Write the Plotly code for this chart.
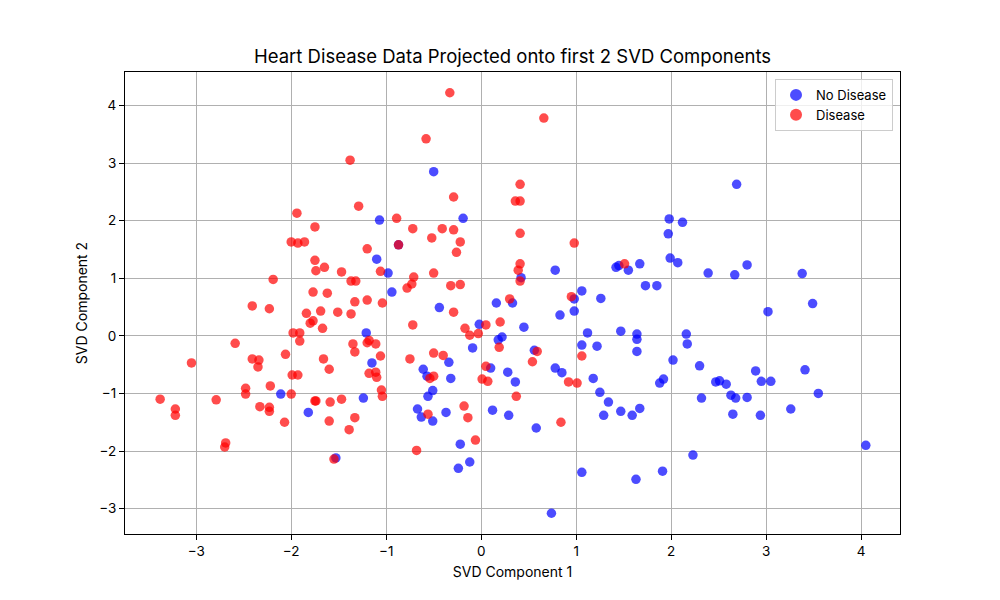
import plotly.graph_objects as go

title = "Heart Disease Data Projected onto first 2 SVD Components"
x_label = "SVD Component 1"
y_label = "SVD Component 2"
series_names = ["No Disease", "Disease"]

no_disease_x = [-1.07, -1.10, -1.21, -1.15, -2.11, -1.82, -1.24, -1.53,
                -0.50, -0.19, -0.87, -0.98, -0.94, -0.44, 0.42, 0.78, 1.42, 1.45, 1.55, 1.67,
                0.16, 0.33, 0.98, 1.06, 1.26,
                -0.02, 0.22, 0.18, 0.45, 0.83, 0.98, -0.09, -0.34, -0.61, -0.57, -0.32, -0.51,
                -0.56, -0.67, -0.63, -0.51, -0.37, 0.10, 0.28, 0.36, 0.12, 0.29, 0.56, 0.78,
                0.85, 0.58, -0.22, -0.12, -0.24, 0.74, 1.06, 1.12, 1.06, 1.22, 1.47, 1.64,
                1.64, 1.64, 1.18, 1.25, 1.34, 1.29, 1.47, 1.59, 1.67, 1.63,
                2.69, 1.98, 2.12, 1.97, 1.99, 2.07, 1.73, 1.85, 2.39, 2.67, 2.80, 3.38, 3.49, 3.02,
                2.16, 2.17, 2.02, 2.30, 1.88, 1.92, 2.47, 2.51, 2.58, 2.32, 2.63, 2.68, 2.80,
                2.89, 2.95, 3.05, 2.65, 2.94, 3.26, 3.41, 3.55, 4.05, 2.23, 1.91]
no_disease_y = [2.01, 1.33, 0.05, -0.47, -1.01, -1.33, -1.08, -2.12,
                2.85, 2.04, 1.58, 1.09, 0.76, 0.49, 1.01, 1.14, 1.19, 1.22, 1.14, 1.25,
                0.57, 0.57, 0.64, 0.78, 0.65,
                0.20, -0.02, -0.07, 0.15, 0.36, 0.43, -0.21, -0.46, -0.58, -0.70, -0.74, -0.95,
                -1.05, -1.27, -1.41, -1.48, -1.33, -0.56, -0.63, -0.80, -1.29, -1.38, -0.25, -0.56,
                -0.64, -1.60, -1.88, -2.19, -2.30, -3.08, -2.37, 0.05, -0.16, -0.18, 0.08, 0.03,
                -0.06, -0.27, -0.74, -0.98, -1.15, -1.38, -1.31, -1.38, -1.26, -2.49,
                2.63, 2.03, 1.97, 1.77, 1.35, 1.27, 0.87, 0.87, 1.09, 1.06, 1.23, 1.08, 0.56, 0.42,
                0.03, -0.14, -0.42, -0.52, -0.82, -0.75, -0.80, -0.78, -0.84, -1.08, -1.03, -1.08, -1.07,
                -0.61, -0.79, -0.79, -1.36, -1.38, -1.27, -0.59, -1.00, -1.90, -2.07, -2.35]

disease_x = [-1.38, -1.29, -1.94, -1.75, -2.00, -1.93, -1.86, -1.20, -1.75, -1.74, -1.65, -1.47,
             -1.06, -2.19, -1.37, -1.32, -1.77, -1.62, -1.33, -1.20, -1.04, -2.41, -2.23,
             -1.84, -1.69, -1.51, -1.37, -1.80, -1.77, -1.67, -1.98, -1.91, -1.91, -2.59, -1.35,
             -1.33, -1.20, -1.18, -1.11, -1.06, -2.06, -3.05, -2.41, -2.34, -2.35, -1.66, -1.60,
             -1.99, -1.93, -1.18, -1.11, -1.10, -1.05, -1.04, -2.22, -2.48, -2.48, -2.00, -3.38,
             -2.79, -3.22, -3.22, -2.33, -2.23, -2.23, -1.75, -1.74, -1.59, -1.47, -1.33, -1.60,
             -2.07, -1.39, -2.69, -2.70, -1.55,
             -0.33, 0.66, -0.58, 0.41, 0.36, 0.41, -0.29, -0.89, -0.72, -0.41, -0.29, -0.52,
             -0.22, -0.26, -0.87, 0.41, 0.98, -0.71, -0.73, -0.78, -0.50, -0.32, -0.22, 0.41,
             0.39, 0.41, 0.30, 0.95, 1.51, -0.29,
             -0.72, -0.17, -0.12, -0.03, 0.05, 0.20, 0.19, -0.50, -0.40, -0.75, -0.54, -0.50,
             -0.56, -0.18, -0.14, -0.06, -0.68, 0.05, 0.01, 0.07, 0.37, 0.54, 0.59, 0.92,
             1.01, 1.06, 0.84]
disease_y = [3.05, 2.25, 2.13, 1.89, 1.63, 1.61, 1.63, 1.51, 1.31, 1.13, 1.19, 1.11,
             1.12, 0.98, 0.95, 0.95, 0.76, 0.74, 0.59, 0.62, 0.57, 0.52, 0.47,
             0.39, 0.43, 0.41, 0.38, 0.22, 0.26, 0.13, 0.05, 0.05, -0.09, -0.13, -0.14,
             -0.28, -0.12, -0.08, -0.14, -0.35, -0.32, -0.47, -0.40, -0.42, -0.54, -0.40, -0.58,
             -0.68, -0.68, -0.65, -0.63, -0.72, -0.94, -1.05, -0.87, -0.91, -1.01, -1.01, -1.10,
             -1.11, -1.27, -1.38, -1.23, -1.24, -1.31, -1.13, -1.13, -1.15, -1.10, -1.42, -1.48,
             -1.50, -1.63, -1.86, -1.93, -2.14,
             4.22, 3.78, 3.42, 2.63, 2.34, 2.34, 2.41, 2.04, 1.86, 1.86, 1.84, 1.70,
             1.63, 1.45, 1.58, 1.78, 1.61, 1.02, 0.90, 0.83, 1.09, 0.87, 0.89, 1.25,
             1.14, 0.95, 0.64, 0.68, 1.25, 0.41,
             0.19, 0.13, 0.01, 0.04, 0.19, 0.24, -0.20, -0.30, -0.34, -0.40, -0.74, -0.70,
             -1.36, -1.22, -1.42, -1.81, -1.99, -0.53, -0.75, -0.79, -1.05, -0.45, -0.27, -0.80,
             -0.82, -0.35, -1.50]

x_ticks = [-3, -2, -1, 0, 1, 2, 3, 4]
y_ticks = [-3, -2, -1, 0, 1, 2, 3, 4]

FONT = "Inter, DejaVu Sans, sans-serif"

fig = go.Figure()
fig.add_trace(go.Scatter(
    x=no_disease_x, y=no_disease_y, mode="markers", name=series_names[0],
    marker=dict(color="rgba(0,0,255,0.7)", size=9.5, line=dict(width=0)),
))
fig.add_trace(go.Scatter(
    x=disease_x, y=disease_y, mode="markers", name=series_names[1],
    marker=dict(color="rgba(255,0,0,0.7)", size=9.5, line=dict(width=0)),
))

axis_common = dict(
    showgrid=True, gridcolor="#b0b0b0", gridwidth=1,
    zeroline=False, showline=True, linecolor="black", linewidth=1, mirror=True,
    ticks="outside", ticklen=5, tickcolor="black", tickwidth=1,
    tickfont=dict(family=FONT, size=13.5, color="black"),
)

fig.update_layout(
    width=1000, height=600,
    paper_bgcolor="white", plot_bgcolor="white",
    margin=dict(l=117, r=108, t=64, b=74),
    title=dict(text=title, x=(117 + 387.5) / 1000, xanchor="center", y=1 - 49 / 600, yanchor="middle",
               yref="container", xref="container",
               font=dict(family=FONT, size=18.5, color="black")),
    xaxis=dict(range=[-3.75, 4.41], tickvals=x_ticks, **axis_common,
               title=dict(text=x_label, font=dict(family=FONT, size=14, color="black"), standoff=8)),
    yaxis=dict(range=[-3.44, 4.58], tickvals=y_ticks, **axis_common,
               title=dict(text=y_label, font=dict(family=FONT, size=14, color="black"), standoff=8)),
    legend=dict(x=0.991, y=0.985, xanchor="right", yanchor="top",
                bgcolor="rgba(255,255,255,0.8)", bordercolor="#cccccc", borderwidth=1,
                font=dict(family=FONT, size=13, color="black"), itemsizing="constant",
                tracegroupgap=0),
    showlegend=True,
)

fig.write_html("out.html")
